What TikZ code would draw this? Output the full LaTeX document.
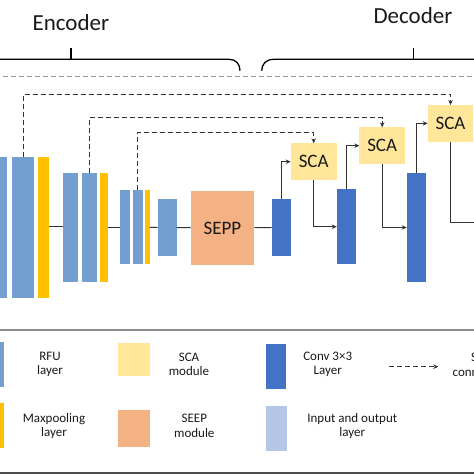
\documentclass[tikz,border=0pt]{standalone}
\usepackage{fontspec}
\setmainfont{Carlito}
\usepackage{tikz}
\usetikzlibrary{arrows.meta}
\definecolor{rfu}{RGB}{114,159,207}
\definecolor{pool}{RGB}{255,192,0}
\definecolor{sca}{RGB}{255,230,153}
\definecolor{sepp}{RGB}{244,177,131}
\definecolor{conv}{RGB}{68,114,196}
\definecolor{inout}{RGB}{180,199,231}
\definecolor{txt}{RGB}{25,25,25}

\begin{document}
\begin{tikzpicture}[x=1pt,y=-1pt,
    blk/.style={inner sep=0pt,outer sep=0pt},
    link/.style={line width=1pt,draw=black!80},
    arr/.style={link,-{Stealth[length=5pt,width=4.5pt]}},
    skip/.style={line width=1pt,draw=black!80,dash pattern=on 5pt off 3pt,-{Stealth[length=5pt,width=4.5pt]}},
    lbl/.style={align=center,font=\fontsize{13}{14.5}\selectfont,text=txt},
    modtxt/.style={font=\fontsize{19}{22}\selectfont,text=txt}]
                \clip (0,0) rectangle (474,474);

                % encoder / decoder braces
                \node[font=\fontsize{23}{28}\selectfont,text=txt] (enc) at (70.8,22.7) {Encoder};
                \node[font=\fontsize{23}{28}\selectfont,text=txt] (dec) at (413,16) {Decoder};
                \draw[line width=1.3pt] (-5,59.3) -- (229,59.3) .. controls (236,59.3) and (240,64) .. (240,70.7);
                \draw[line width=1.3pt] (71,59.3) -- (71,48.3);
                \draw[line width=1.3pt] (261.7,70.7) .. controls (261.7,64) and (266,59.3) .. (274,59.3) -- (480,59.3);
                \draw[line width=1.3pt] (413.3,59.3) -- (413.3,48.3);
                \draw[line width=1pt,gray!80,dash pattern=on 5pt off 3pt] (-5,76) -- (480,76);

                % encoder
                \node[blk,fill=rfu,minimum width=21pt,minimum height=141.3pt] (r1) at (-3.5,227.4) {};
                \node[blk,fill=rfu,minimum width=21.4pt,minimum height=141.3pt] (r2) at (23,227.4) {};
                \node[blk,fill=pool,minimum width=11.3pt,minimum height=141.3pt] (m1) at (43.4,227.4) {};
                \node[blk,fill=rfu,minimum width=15pt,minimum height=108.4pt] (r3) at (70.8,227.5) {};
                \node[blk,fill=rfu,minimum width=15.3pt,minimum height=108.4pt] (r4) at (89.4,227.5) {};
                \node[blk,fill=pool,minimum width=8pt,minimum height=108.4pt] (m2) at (104.3,227.5) {};
                \node[blk,fill=rfu,minimum width=10pt,minimum height=74.3pt] (r5) at (125,227.2) {};
                \node[blk,fill=rfu,minimum width=10pt,minimum height=74.3pt] (r6) at (137.7,227.2) {};
                \node[blk,fill=pool,minimum width=4.7pt,minimum height=74.3pt] (m3) at (147.4,227.2) {};
                \node[blk,fill=rfu,minimum width=19pt,minimum height=56.4pt] (r7) at (167.2,227.5) {};
                \node[blk,fill=sepp,minimum width=63.6pt,minimum height=74pt,modtxt] (pp) at (222.5,228) {SEPP};

                % decoder
                \node[blk,fill=conv,minimum width=19pt,minimum height=56.4pt] (c1) at (281.2,227.5) {};
                \node[blk,fill=conv,minimum width=19.3pt,minimum height=74.7pt] (c2) at (346.4,226.7) {};
                \node[blk,fill=conv,minimum width=19.3pt,minimum height=108.4pt] (c3) at (416.4,227.5) {};
                \node[blk,fill=sca,minimum width=46pt,minimum height=36.7pt,modtxt] (s1) at (313.7,161.7) {SCA};
                \node[blk,fill=sca,minimum width=45.7pt,minimum height=36.7pt,modtxt] (s2) at (382.2,145.7) {SCA};
                \node[blk,fill=sca,minimum width=45.6pt,minimum height=36.7pt,modtxt] (s3) at (450.5,123.4) {SCA};
                \coordinate (out) at (480,222.7);

                \draw[link] (m1.east |- 0,226.7) -- (r3.west |- 0,226.7);
                \draw[link] (m2.east |- 0,227) -- (r5.west |- 0,227);
                \draw[link] (m3) -- (r7);
                \draw[link] (r7) -- (pp);
                \draw[link] (pp) -- (c1);

                \draw[arr] (c1.north) |- (s1.west);
                \draw[arr] (s1.south) |- (c2.west);
                \draw[arr] (c2.north) |- (s2.west);
                \draw[arr] (s2.south) |- (c3.west);
                \draw[arr] (c3.north) |- (s3.west);
                \draw[arr] (s3.south) |- (out);

                % skip connections
                \coordinate (k1) at (0,94.3);
                \coordinate (k2) at (0,117.7);
                \coordinate (k3) at (0,132.7);
                \draw[skip] (r2.north) -- (r2.north |- k1) -| (s3.north);
                \draw[skip] (r4.north) -- (r4.north |- k2) -| (s2.north);
                \draw[skip] (r6.north) -- (r6.north |- k3) -| (s1.north);

                % legend
                \draw[line width=1.5pt,gray!90] (-5,330) -- (480,330);
                \draw[line width=2pt,black!70] (-5,472.7) -- (480,472.7);
                \node[blk,fill=rfu,minimum width=21pt,minimum height=45pt] (lr) at (-6.2,364.2) {};
                \node[blk,fill=pool,minimum width=21pt,minimum height=44.4pt] (lm) at (-6.2,425.5) {};
                \node[blk,fill=sca,minimum width=31.7pt,minimum height=33pt] (ls) at (134.2,359.2) {};
                \node[blk,fill=sepp,minimum width=31.7pt,minimum height=36.7pt] (lp) at (134.2,428.4) {};
                \node[blk,fill=conv,minimum width=20.3pt,minimum height=45pt] (lc) at (275.9,366.8) {};
                \node[blk,fill=inout,minimum width=21.3pt,minimum height=45pt] (li) at (276.7,428.5) {};
                \node[lbl] (tr) at (50,364.5) {RFU\\layer};
                \node[lbl] (tm) at (54,425.8) {Maxpooling\\layer};
                \node[lbl] (ts) at (189,364.5) {SCA\\module};
                \node[lbl] (tp) at (194.3,425.8) {SEEP\\module};
                \node[lbl] (tc) at (327.7,364.5) {Conv 3×3\\Layer};
                \node[lbl] (ti) at (352.3,425.8) {Input and output\\layer};
                \node[lbl] (tk) at (482,364.5) {Skip\\connection};
                \coordinate (ka) at (389.3,366.7);
                \coordinate (kb) at (438.3,366.7);
                \draw[skip] (ka) -- (kb);
            \end{tikzpicture}
\end{document}
